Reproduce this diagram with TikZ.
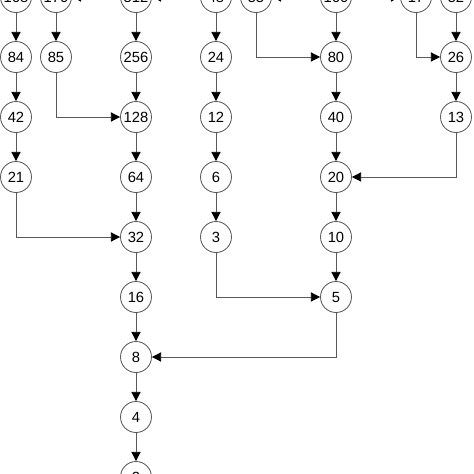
\documentclass[tikz,border=0pt]{standalone}
\usepackage{fontspec}
\setmainfont{Liberation Sans}
\usetikzlibrary{arrows.meta}

\tikzstyle{num}=[shape=circle,draw=black!65,line width=0.6pt,minimum size=0.775cm,inner sep=0pt,font=\fontsize{10.5}{12}\selectfont]
\tikzstyle{wire}=[draw=black!65,line width=0.6pt]

\begin{document}
\begin{tikzpicture}[>={Triangle[length=0.23cm,width=0.23cm,color=black]},every edge/.style={wire}]
        \clip (-0.4,-0.075) rectangle (11.45,-11.925);
        % top row
        \node[num] (n168) at (0,0) {168};
        \node[num] (n170) at (1,0) {170};
        \node[num] (n512) at (3,0) {512};
        \node[num] (n48) at (5,0) {48};
        \node[num] (n53) at (6,0) {53};
        \node[num] (n160) at (8,0) {160};
        \node[num] (n17) at (10,0) {17};
        \node[num] (n52) at (11,0) {52};
        % arrows coming in from above
        \coordinate (in170) at (2.3,1);
        \coordinate (in512) at (4.3,1);
        \coordinate (in53) at (7.3,1);
        \coordinate (in17) at (9,1);
        \draw [wire,->] (in170) |- (n170);
        \draw [wire,->] (in512) |- (n512);
        \draw [wire,->] (in53) |- (n53);
        \draw [wire,->] (in17) |- (n17);
        % first column
        \node[num] (n84) at (0,-1.5) {84}
            edge [<-] (n168);
        \node[num] (n42) at (0,-3) {42}
            edge [<-] (n84);
        \node[num] (n21) at (0,-4.5) {21}
            edge [<-] (n42);
        \node[num] (n85) at (1,-1.5) {85}
            edge [<-] (n170);
        % main column
        \node[num] (n256) at (3,-1.5) {256}
            edge [<-] (n512);
        \node[num] (n128) at (3,-3) {128}
            edge [<-] (n256);
        \node[num] (n64) at (3,-4.5) {64}
            edge [<-] (n128);
        \node[num] (n32) at (3,-6) {32}
            edge [<-] (n64);
        \node[num] (n16) at (3,-7.5) {16}
            edge [<-] (n32);
        \node[num] (n8) at (3,-9) {8}
            edge [<-] (n16);
        \node[num] (n4) at (3,-10.5) {4}
            edge [<-] (n8);
        \node[num] (n2) at (3,-12) {2}
            edge [<-] (n4);
        % middle column
        \node[num] (n24) at (5,-1.5) {24}
            edge [<-] (n48);
        \node[num] (n12) at (5,-3) {12}
            edge [<-] (n24);
        \node[num] (n6) at (5,-4.5) {6}
            edge [<-] (n12);
        \node[num] (n3) at (5,-6) {3}
            edge [<-] (n6);
        % right column
        \node[num] (n80) at (8,-1.5) {80}
            edge [<-] (n160);
        \node[num] (n40) at (8,-3) {40}
            edge [<-] (n80);
        \node[num] (n20) at (8,-4.5) {20}
            edge [<-] (n40);
        \node[num] (n10) at (8,-6) {10}
            edge [<-] (n20);
        \node[num] (n5) at (8,-7.5) {5}
            edge [<-] (n10);
        % far right
        \node[num] (n26) at (11,-1.5) {26}
            edge [<-] (n52);
        \node[num] (n13) at (11,-3) {13}
            edge [<-] (n26);
        % joins
        \draw [wire,->] (n85) |- (n128);
        \draw [wire,->] (n21) |- (n32);
        \draw [wire,->] (n3) |- (n5);
        \draw [wire,->] (n5) |- (n8);
        \draw [wire,->] (n53) |- (n80);
        \draw [wire,->] (n17) |- (n26);
        \draw [wire,->] (n13) |- (n20);
    \end{tikzpicture}
\end{document}
